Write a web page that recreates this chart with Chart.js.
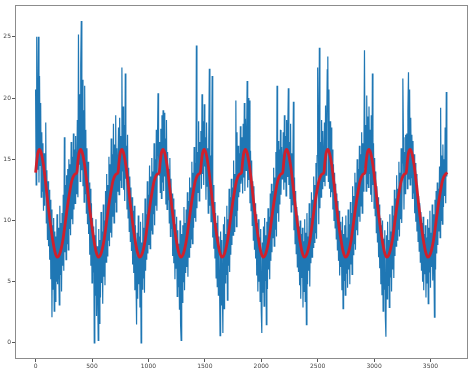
<!DOCTYPE html>
<html>
<head>
<meta charset="utf-8">
<script src="https://cdn.jsdelivr.net/npm/chart.js@4"></script>
<style>
  html, body { margin: 0; padding: 0; background: #fff; }
  canvas { display: block; }
</style>
</head>
<body>
<canvas id="tempChart" width="474" height="372"></canvas>
<script>
// daily min temperature, read every 5th day from the picture
const sampleStep = 5;
const daysPerYear = 365;

const temps1981 = [20.7, 12.9, 25.0, 14.2, 18.6, 25.0, 13.1, 21.8, 14.5, 19.6, 11.9, 17.2, 12.4, 16.3, 10.8, 15.5, 11.2, 14.8, 18.0, 9.8,
  14.1, 8.4, 13.2, 7.9, 12.5, 6.8, 11.7, 5.2, 10.9, 2.1, 9.6, 4.4, 10.2, 2.6, 9.1, 3.4, 8.7, 5.0, 10.5, 4.8,
  9.4, 6.1, 3.1, 11.2, 5.6, 9.8, 4.2, 10.6, 6.3, 12.1, 5.9, 16.8, 7.4, 12.9, 6.8, 13.7, 8.1, 14.2, 7.6, 15.0,
  9.3, 14.6, 8.8, 16.4, 10.1, 15.2, 9.7, 17.1, 10.9, 15.8, 11.4, 16.9, 12.2];
const temps1982 = [13.5, 18.2, 11.9, 25.2, 14.6, 20.3, 13.2, 22.7, 26.3, 14.1, 21.5, 12.8, 19.0, 11.5, 21.0, 12.2, 17.4, 10.6, 15.9, 9.7,
  14.8, 8.9, 13.1, 7.2, 12.6, 6.3, 11.4, 4.9, 10.2, 5.8, 9.5, 0.0, 8.8, 3.9, 10.1, 2.2, 7.9, 4.5, 0.2, 9.3,
  1.6, 8.4, 3.7, 10.7, 4.9, 9.1, 3.2, 11.3, 5.4, 10.0, 4.7, 12.4, 6.6, 13.8, 7.1, 12.9, 8.4, 15.2, 7.9, 14.6,
  9.0, 16.7, 8.6, 15.4, 10.3, 17.9, 9.8, 16.2, 11.5, 18.6, 10.7, 15.9, 12.4];
const temps1983 = [14.2, 17.6, 12.1, 18.4, 13.3, 16.9, 12.7, 22.5, 14.0, 19.3, 12.5, 17.8, 11.6, 22.0, 13.4, 16.1, 10.9, 17.0, 10.2, 14.3,
  9.1, 13.6, 8.3, 12.7, 7.5, 11.9, 6.4, 10.8, 5.7, 11.2, 4.3, 9.6, 5.1, 1.5, 9.0, 3.6, 10.4, 4.8, 8.7, 2.9,
  9.9, 0.0, 8.2, 4.4, 10.6, 5.3, 9.4, 4.1, 11.8, 5.9, 10.5, 6.8, 13.2, 7.3, 12.1, 8.0, 14.5, 7.7, 13.6, 9.2,
  15.1, 8.9, 14.0, 10.5, 16.3, 9.6, 15.0, 11.2, 17.4, 10.8, 16.2, 20.4, 15.3];
const temps1984 = [13.7, 16.4, 12.3, 17.5, 11.8, 18.6, 13.1, 19.0, 12.4, 18.8, 13.6, 16.7, 11.3, 18.2, 10.9, 15.6, 11.7, 14.2, 9.8, 15.1,
  8.7, 13.4, 9.3, 12.2, 7.1, 11.8, 6.5, 10.9, 5.2, 9.7, 6.1, 10.3, 3.8, 9.2, 4.6, 8.1, 2.7, 10.0, 1.5, 0.2,
  8.9, 3.3, 9.6, 5.0, 11.1, 4.3, 9.8, 5.7, 10.9, 6.2, 12.3, 5.4, 11.6, 7.0, 13.5, 7.8, 12.7, 8.5, 14.8, 8.1,
  13.9, 9.4, 16.0, 10.2, 14.7, 9.9, 24.3, 11.0, 15.6, 12.3, 18.1, 11.6, 16.4];
const temps1985 = [14.1, 17.3, 12.6, 20.3, 13.8, 18.1, 12.9, 19.5, 14.4, 16.8, 11.7, 18.0, 12.8, 15.9, 10.6, 16.6, 22.4, 11.2, 15.3, 9.9,
  14.6, 21.8, 8.6, 12.9, 7.7, 11.5, 6.9, 10.6, 5.3, 9.8, 4.6, 10.4, 3.9, 8.7, 5.2, 0.6, 9.1, 3.1, 8.4, 4.5,
  0.8, 9.7, 2.8, 10.3, 4.9, 8.9, 5.6, 11.2, 3.5, 10.1, 6.3, 12.6, 5.8, 11.9, 7.2, 13.4, 8.0, 12.7, 8.8, 14.9,
  9.1, 13.8, 10.4, 19.8, 9.5, 17.2, 10.8, 16.1, 11.9, 15.5, 12.3, 17.7, 13.0];
const temps1986 = [13.6, 16.8, 12.2, 17.9, 13.5, 19.6, 12.4, 18.3, 14.1, 16.2, 21.4, 12.7, 20.0, 13.3, 19.8, 11.4, 15.7, 10.8, 14.9, 9.6,
  13.2, 8.4, 12.8, 7.6, 11.4, 6.9, 10.5, 5.5, 9.8, 4.2, 10.1, 5.0, 8.6, 3.4, 9.3, 2.6, 0.8, 8.2, 4.1, 9.5,
  3.0, 10.2, 5.1, 8.8, 1.5, 9.9, 4.4, 11.0, 6.0, 10.3, 5.2, 12.2, 6.7, 13.0, 7.4, 12.4, 8.6, 14.3, 7.9, 13.5,
  9.3, 15.6, 8.7, 21.0, 10.6, 16.5, 9.9, 15.8, 11.3, 17.4, 12.1, 16.0, 13.4];
const temps1987 = [14.0, 17.2, 12.5, 18.6, 13.1, 16.9, 12.0, 18.2, 13.6, 17.0, 20.8, 12.9, 16.4, 11.8, 17.9, 10.7, 15.5, 11.3, 14.4, 19.7,
  9.2, 13.5, 8.1, 12.4, 7.3, 11.1, 6.2, 10.4, 5.8, 9.5, 4.7, 10.0, 3.6, 8.9, 5.3, 9.4, 2.9, 8.3, 4.2, 10.1,
  3.4, 9.0, 1.5, 10.6, 4.8, 8.7, 5.9, 11.4, 4.6, 10.2, 6.5, 12.3, 7.0, 11.7, 7.8, 13.6, 8.2, 12.9, 9.0, 14.7,
  8.5, 15.3, 22.5, 16.6, 9.7, 24.1, 11.0, 16.4, 11.9, 18.2, 12.6, 17.3, 13.2];
const temps1988 = [14.5, 18.0, 12.8, 19.4, 13.7, 17.5, 22.3, 23.4, 13.2, 20.7, 12.6, 18.1, 11.9, 17.6, 12.3, 15.8, 10.9, 14.6, 10.0, 13.9,
  9.4, 13.0, 8.5, 12.2, 7.6, 11.6, 6.7, 10.8, 5.5, 9.9, 6.2, 9.2, 4.3, 10.3, 2.8, 8.9, 5.1, 9.6, 3.9, 10.4,
  5.7, 8.6, 4.5, 10.9, 6.0, 9.7, 4.8, 11.5, 6.4, 10.6, 5.6, 12.8, 7.2, 12.0, 8.1, 13.9, 7.6, 13.1, 9.2, 15.0,
  8.8, 14.2, 10.3, 16.1, 9.9, 15.4, 11.2, 17.2, 10.6, 16.3, 12.4, 15.7, 23.9];
const temps1989 = [14.3, 17.8, 12.4, 20.2, 13.0, 18.5, 12.7, 19.3, 13.8, 17.4, 12.1, 18.6, 11.5, 22.0, 12.9, 16.3, 11.0, 15.1, 10.4, 14.0,
  9.0, 12.8, 8.2, 11.9, 7.0, 11.3, 6.1, 10.2, 4.8, 9.6, 3.9, 10.0, 2.6, 8.5, 4.4, 9.2, 2.1, 0.5, 8.8, 3.6,
  9.9, 4.7, 8.4, 2.9, 10.5, 5.4, 9.1, 4.2, 11.2, 6.0, 10.4, 5.3, 12.5, 7.1, 11.8, 7.9, 13.7, 8.4, 12.6, 9.3,
  14.8, 8.7, 13.9, 10.1, 15.9, 9.8, 14.7, 21.6, 16.8, 10.9, 15.6, 12.2, 17.0];
const temps1990 = [13.8, 17.1, 12.6, 18.9, 22.1, 13.4, 20.7, 12.9, 18.4, 13.5, 17.0, 11.8, 16.5, 12.2, 15.4, 10.6, 14.7, 9.9, 13.8, 9.1,
  12.9, 8.3, 12.0, 7.5, 11.4, 6.6, 10.7, 5.9, 9.8, 5.0, 10.3, 4.3, 8.9, 5.6, 9.6, 3.7, 8.6, 4.9, 10.1, 3.2,
  9.4, 5.8, 10.8, 4.5, 9.0, 6.2, 11.3, 5.1, 10.5, 6.8, 2.1, 11.7, 6.0, 12.4, 7.3, 13.1, 8.0, 12.6, 9.1, 14.4,
  8.6, 19.2, 10.0, 15.3, 9.7, 16.2, 11.1, 15.0, 12.0, 17.6, 11.4, 20.5, 13.6];

// seasonal fit (red), same curve every year: day of year -> value
const seasonDays = [0, 10, 20, 35, 50, 70, 90, 110, 130, 150, 170, 192, 215, 240, 260, 280, 300, 320, 335, 350];
const seasonFit = [13.9, 14.8, 15.5, 15.8, 15.5, 14.5, 13.0, 11.3, 9.8, 8.5, 7.5, 7.0, 7.3, 8.3, 9.6, 11.0, 12.2, 13.2, 13.6, 13.8];

const xTicks = [0, 500, 1000, 1500, 2000, 2500, 3000, 3500];
const yTicks = [0, 5, 10, 15, 20, 25];

const years = [temps1981, temps1982, temps1983, temps1984, temps1985,
  temps1986, temps1987, temps1988, temps1989, temps1990];

const dailyPoints = [];
years.forEach((vals, yi) => {
  vals.forEach((v, k) => dailyPoints.push({ x: yi * daysPerYear + k * sampleStep, y: v }));
});

const fitPoints = [];
years.forEach((vals, yi) => {
  seasonDays.forEach((d, i) => fitPoints.push({ x: yi * daysPerYear + d, y: seasonFit[i] }));
});
fitPoints.push({ x: years.length * daysPerYear, y: seasonFit[0] });

// frame round the plot, like matplotlib spines
const framePlugin = {
  id: 'frame',
  afterDatasetsDraw(chart) {
    const a = chart.chartArea;
    const c = chart.ctx;
    c.save();
    c.strokeStyle = '#8c8c8c';
    c.lineWidth = 1;
    c.strokeRect(Math.round(a.left) + 0.5, Math.round(a.top) + 0.5,
      Math.round(a.right - a.left) - 1, Math.round(a.bottom - a.top) - 1);
    c.restore();
  }
};

const tickFont = { family: 'DejaVu Sans', size: 6 };

const ctx = document.getElementById('tempChart').getContext('2d');
new Chart(ctx, {
  type: 'line',
  data: {
    datasets: [{
      label: 'seasonal fit',
      data: fitPoints,
      borderColor: '#d0202c',
      borderWidth: 2.8,
      pointRadius: 0,
      fill: false,
      cubicInterpolationMode: 'monotone'
    }, {
      label: 'temperature',
      data: dailyPoints,
      borderColor: '#1f77b4',
      borderWidth: 1.2,
      pointRadius: 0,
      fill: false,
      tension: 0
    }]
  },
  options: {
    responsive: false,
    animation: false,
    devicePixelRatio: 1,
    layout: { padding: { top: 5, right: 6, left: 0, bottom: 0 } },
    plugins: {
      legend: { display: false },
      tooltip: { enabled: false }
    },
    scales: {
      x: {
        type: 'linear',
        min: -182.5,
        max: 3832.5,
        afterBuildTicks: s => { s.ticks = xTicks.map(v => ({ value: v })); },
        afterFit: s => { s.height = 13; },
        grid: { drawOnChartArea: false, drawTicks: true, tickLength: 3, color: '#555' },
        border: { display: false },
        ticks: { font: tickFont, color: '#444', padding: 1, maxRotation: 0, callback: v => String(v) }
      },
      y: {
        type: 'linear',
        min: -1.315,
        max: 27.6,
        afterBuildTicks: s => { s.ticks = yTicks.map(v => ({ value: v })); },
        afterFit: s => { s.width = 15; },
        grid: { drawOnChartArea: false, drawTicks: true, tickLength: 3, color: '#555' },
        border: { display: false },
        ticks: { font: tickFont, color: '#444', padding: 1, callback: v => String(v) }
      }
    }
  },
  plugins: [framePlugin]
});
</script>
</body>
</html>
